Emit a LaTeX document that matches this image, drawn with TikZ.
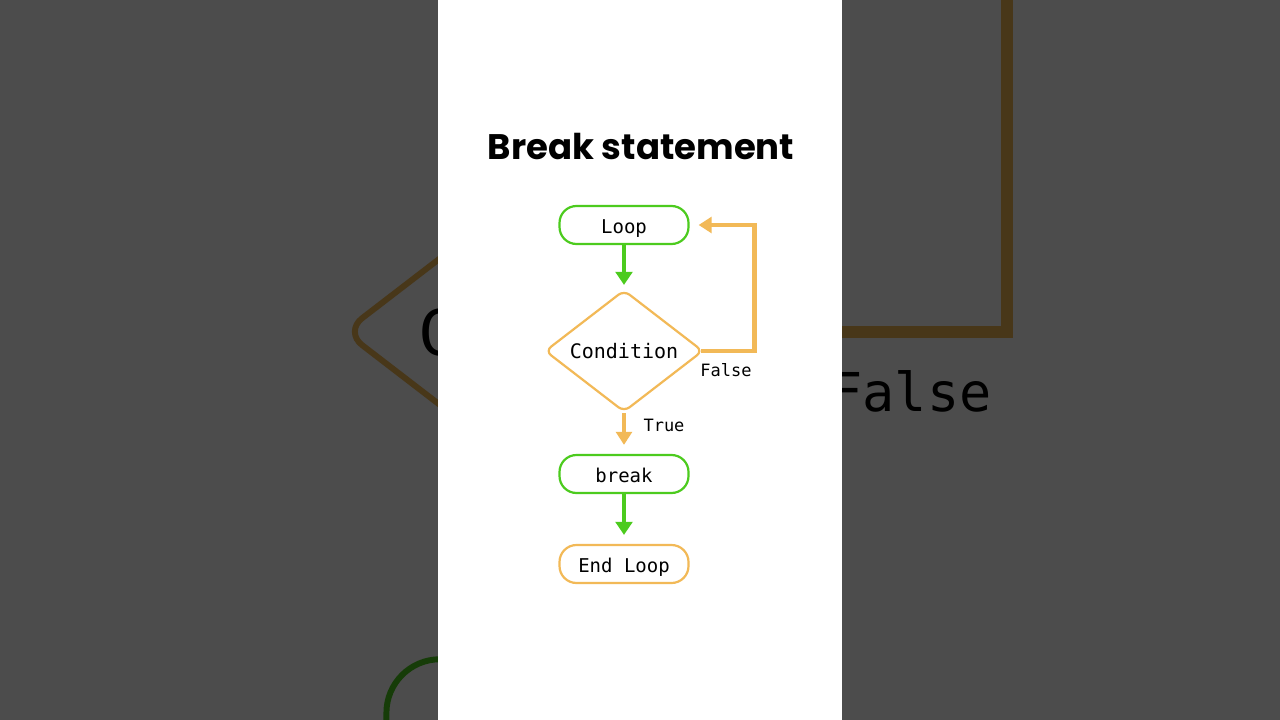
\documentclass[tikz,border=0pt]{standalone}
\usepackage{fontspec}
\usetikzlibrary{shapes.geometric,arrows.meta}
\newfontfamily\titlefont{Poppins}
\newfontfamily\monofont{DejaVu Sans Mono}
\definecolor{grn}{HTML}{4CCB1E}
\definecolor{org}{HTML}{F2B957}
\newcommand\lwf{1}
\newcommand\rcf{1}
\tikzset{
  pill/.style={draw, rectangle, rounded corners=17pt*\rcf, minimum width=129pt, minimum height=38pt,
    line width=2.2pt*\lwf, fill=white, text=black, text height=18pt, text depth=2pt, inner ysep=0pt,
    font=\monofont\fontsize{19}{19}\selectfont},
  dia/.style={draw=org, diamond, aspect=1.3, rounded corners=7pt*\rcf, minimum width=158pt, minimum height=122pt,
    inner sep=0pt, line width=2.2pt*\lwf, fill=white, text=black, font=\monofont\fontsize{20}{20}\selectfont},
  garrow/.style={draw=grn, line width=4.5pt*\lwf, -{Triangle[length=0pt 2.9, width=0pt 3.7]}},
  oarrow/.style={draw=org, line width=4.5pt*\lwf, -{Triangle[length=0pt 2.9, width=0pt 3.5]}},
  lbl/.style={text=black, font=\monofont\fontsize{17}{17}\selectfont, inner sep=0pt},
  flow/.pic={
    \node[pill, draw=grn] (-loop) at (624,225) {Loop};
    \node[dia] (-cond) at (624,351) {Condition};
    \node[pill, draw=grn] (-brk) at (624,474) {break};
    \node[pill, draw=org] (-end) at (624,564) {End Loop};
    \draw[garrow, shorten >=4pt*\rcf] (-loop.south) -- (-cond.north);
    \draw[oarrow, shorten >=9pt*\rcf] (-cond.south) -- (-brk.north);
    \draw[garrow, shorten >=9pt*\rcf] (-brk.south) -- (-end.north);
    \draw[oarrow] ([xshift=-3pt]-cond.east) -| ([xshift=65pt]-loop.east) -- ([xshift=9pt]-loop.east);
    \node[lbl] (-false) at (726,370) {False};
    \node[lbl] (-true) at (664,425) {True};
  }
}
\begin{document}
\begin{tikzpicture}[x=1pt, y=-1pt]
  \useasboundingbox (0,0) rectangle (1280,720);
  \fill[white] (0,0) rectangle (1280,720);
  \begin{scope}
    \clip (0,0) rectangle (1280,720);
    \renewcommand\lwf{2.7}
    \renewcommand\rcf{3.15}
    \begin{scope}[shift={(640,360)}, scale=3.15, transform shape, shift={(-640,-360)}]
      \pic (bg) at (0,0) {flow};
    \end{scope}
  \end{scope}
  \fill[black, opacity=0.7] (0,0) rectangle (1280,720);
  \fill[white] (438,0) rectangle (842,720);
  \node[font=\titlefont\bfseries\fontsize{35.5}{36}\selectfont, text=black] (title) at (641,147) {Break statement};
  \pic (m) at (0,0) {flow};
\end{tikzpicture}
\end{document}
